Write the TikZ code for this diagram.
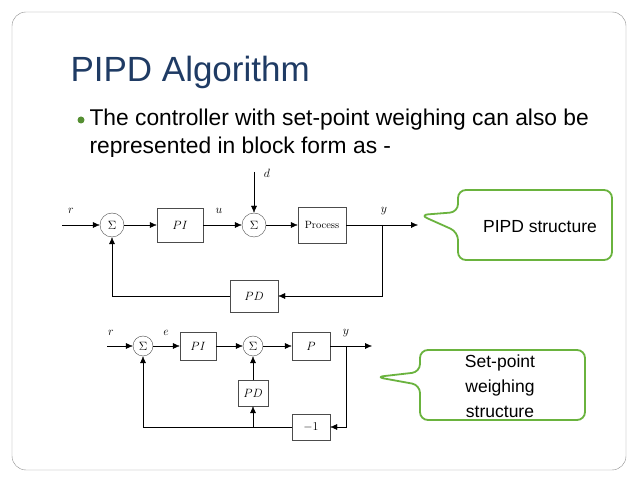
\documentclass[tikz,border=0pt]{standalone}
\usepackage{fontspec}
\setmainfont{Liberation Sans}
\usetikzlibrary{arrows.meta,calc}
\definecolor{titleblue}{HTML}{1F3B64}
\definecolor{callgreen}{HTML}{6AB33E}
\begin{document}
\begin{tikzpicture}[x=1pt,y=-1pt,
  blk/.style={draw=black!70,thin,minimum width=#1,inner sep=0pt,font=\fontsize{13}{13}\selectfont},
  sum/.style={circle,draw=black!70,thin,inner sep=0pt,font=\fontsize{12}{12}\selectfont},
  sig/.style={-{Latex[length=7pt,width=6pt]},thin},
  lbl/.style={font=\fontsize{12}{12}\selectfont},
  callout/.style={draw=callgreen,line width=1.8pt,fill=white,rounded corners=8pt,line join=round}]
\useasboundingbox (0,0) rectangle (638,478);
\draw[black!45,rounded corners=14pt] (12,12) rectangle (626,470);
% title and bullet
\node[anchor=west,text=titleblue,font=\fontsize{35}{35}\selectfont] (title) at (67,72) {PIPD Algorithm};
\fill[callgreen!80!black] (81,120) circle (3.5pt);
\node[anchor=west,font=\fontsize{22.8}{22.8}\selectfont] (b1) at (86,120) {The controller with set-point weighing can also be};
\node[anchor=west,font=\fontsize{22.8}{22.8}\selectfont] (b2) at (86,148) {represented in block form as -};
\fill[white] (40,157) rectangle (440,455);
% diagram 1
\coordinate (r1) at (62,225);
\node[sum,minimum size=24pt] (s1) at (112,225) {$\Sigma$};
\node[blk=46pt,minimum height=34pt] (pi1) at (180,225) {$PI$};
\node[sum,minimum size=24pt] (s2) at (254,225) {$\Sigma$};
\coordinate (d1) at (254,172);
\node[blk=48pt,minimum height=36pt] (pr) at (322,225) {\fontspec{Latin Modern Roman}\fontsize{10.5}{10.5}\selectfont Process};
\coordinate (y1) at (382,225);
\coordinate (o1) at (418,225);
\node[blk=48pt,minimum height=32pt] (pd1) at (254,296) {$PD$};
\draw[sig] (r1) -- (s1);
\draw[sig] (s1) -- (pi1);
\draw[sig] (pi1) -- (s2);
\draw[sig] (d1) -- (s2);
\draw[sig] (s2) -- (pr);
\draw[sig] (pr) -- (o1);
\draw[sig] (y1) |- (pd1);
\draw[sig] (pd1) -| (s1);
\node[lbl] (rl1) at (71,211) {$r$};
\node[lbl] (ul) at (219,211) {$u$};
\node[lbl] (dl) at (267,173) {$d$};
\node[lbl] (yl1) at (384,211) {$y$};
% diagram 2
\coordinate (r2) at (107,346);
\node[sum,minimum size=20pt] (t1) at (143,346) {$\Sigma$};
\node[blk=36pt,minimum height=28pt] (pi2) at (198,346) {$PI$};
\node[sum,minimum size=20pt] (t2) at (253,346) {$\Sigma$};
\node[blk=38pt,minimum height=28pt] (p2) at (311,346) {$P$};
\coordinate (y2) at (346,346);
\coordinate (o2) at (372,346);
\node[blk=30pt,minimum height=26pt] (pd2) at (253,393) {$PD$};
\node[blk=38pt,minimum height=26pt] (m1) at (311,427) {$-1$};
\coordinate (j2) at (253,427);
\draw[sig] (r2) -- (t1);
\draw[sig] (t1) -- (pi2);
\draw[sig] (pi2) -- (t2);
\draw[sig] (t2) -- (p2);
\draw[sig] (p2) -- (o2);
\draw[sig] (y2) |- (m1);
\draw[sig] (m1) -| (t1);
\draw[sig] (j2) -- (pd2);
\draw[sig] (pd2) -- (t2);
\node[lbl] (rl2) at (111,333) {$r$};
\node[lbl] (el) at (166,333) {$e$};
\node[lbl] (yl2) at (346,333) {$y$};
% callouts
\draw[callout] (458,190) -- (612,190) -- (612,260) -- (458,260) -- (458,232) -- (420,215) -- (458,212) -- cycle;
\node[font=\fontsize{17.5}{17.5}\selectfont] (c1) at (540,227) {PIPD structure};
\draw[callout] (420,350) -- (585,350) -- (585,420) -- (420,420) -- (420,385) -- (376,377) -- (420,372) -- cycle;
\node[font=\fontsize{17.5}{25}\selectfont,align=center] (c2) at (500,386) {Set-point\\weighing\\structure};
\end{tikzpicture}
\end{document}
